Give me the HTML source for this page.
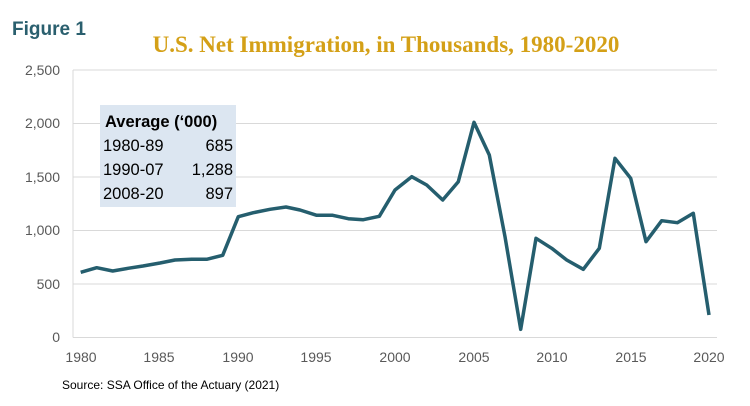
<!DOCTYPE html>
<html><head><meta charset="utf-8"><style>
body{margin:0;background:#fff;}
svg{display:block}
</style></head><body>
<svg width="750" height="406" xmlns="http://www.w3.org/2000/svg" font-family="Liberation Sans, sans-serif">
<rect width="750" height="406" fill="#fff"/>
<text x="12" y="35" font-size="19" font-weight="bold" fill="#2a5f6e">Figure 1</text>
<text x="386" y="52" font-size="23" font-weight="bold" fill="#d4a017" text-anchor="middle" font-family="Liberation Serif, serif">U.S. Net Immigration, in Thousands, 1980-2020</text>
<g stroke="#d9d9d9" stroke-width="1">
<line x1="73" x2="717" y1="70" y2="70"/><line x1="73" x2="717" y1="123.5" y2="123.5"/>
<line x1="73" x2="717" y1="177" y2="177"/><line x1="73" x2="717" y1="230.5" y2="230.5"/>
<line x1="73" x2="717" y1="284" y2="284"/><line x1="73" x2="717" y1="337.5" y2="337.5"/>
<line x1="73" x2="73" y1="70" y2="337.5"/>
</g>
<g font-size="14" fill="#595959" text-anchor="end">
<text x="60" y="75">2,500</text><text x="60" y="128">2,000</text><text x="60" y="182">1,500</text>
<text x="60" y="235">1,000</text><text x="60" y="289">500</text><text x="60" y="342">0</text>
</g>
<g font-size="14" fill="#595959" text-anchor="middle">
<text x="81" y="362">1980</text><text x="159" y="362">1985</text><text x="238" y="362">1990</text>
<text x="316" y="362">1995</text><text x="395" y="362">2000</text><text x="474" y="362">2005</text>
<text x="552" y="362">2010</text><text x="631" y="362">2015</text><text x="709" y="362">2020</text>
</g>
<rect x="100" y="105" width="136" height="102" fill="#dce6f1"/>
<g font-size="16.5" fill="#000">
<text x="105" y="127" font-weight="bold">Average (‘000)</text>
<text x="103" y="151">1980-89</text><text x="233" y="151" text-anchor="end">685</text>
<text x="103" y="175">1990-07</text><text x="233" y="175" text-anchor="end">1,288</text>
<text x="103" y="199">2008-20</text><text x="233" y="199" text-anchor="end">897</text>
</g>
<polyline fill="none" stroke="#255e6e" stroke-width="3.5" stroke-linejoin="round" points="80.7,272.3 96.7,267.7 112.7,271 128,268.3 143,266 160,263 175,260 191.7,259.3 206.7,259.3 222.7,255.3 238.3,216.7 253.3,212.7 270,209.3 286,207 300,210 316.7,215.3 332.7,215.3 348.3,218.7 363.3,219.7 379.3,216.3 395,190 411.7,176.7 426.7,185 442.7,200 458.3,181.7 474,122.3 489.3,155 505,236.7 520.7,329.3 536,238.3 551.7,248.3 566.7,260 583.3,269.3 599.3,248.3 615,158.3 630.7,178.3 646,241.7 661.7,220.7 677.3,222.7 693.3,213.3 709,315"/>
<text x="62" y="389" font-size="12" fill="#000">Source: SSA Office of the Actuary (2021)</text>
</svg>
</body></html>
